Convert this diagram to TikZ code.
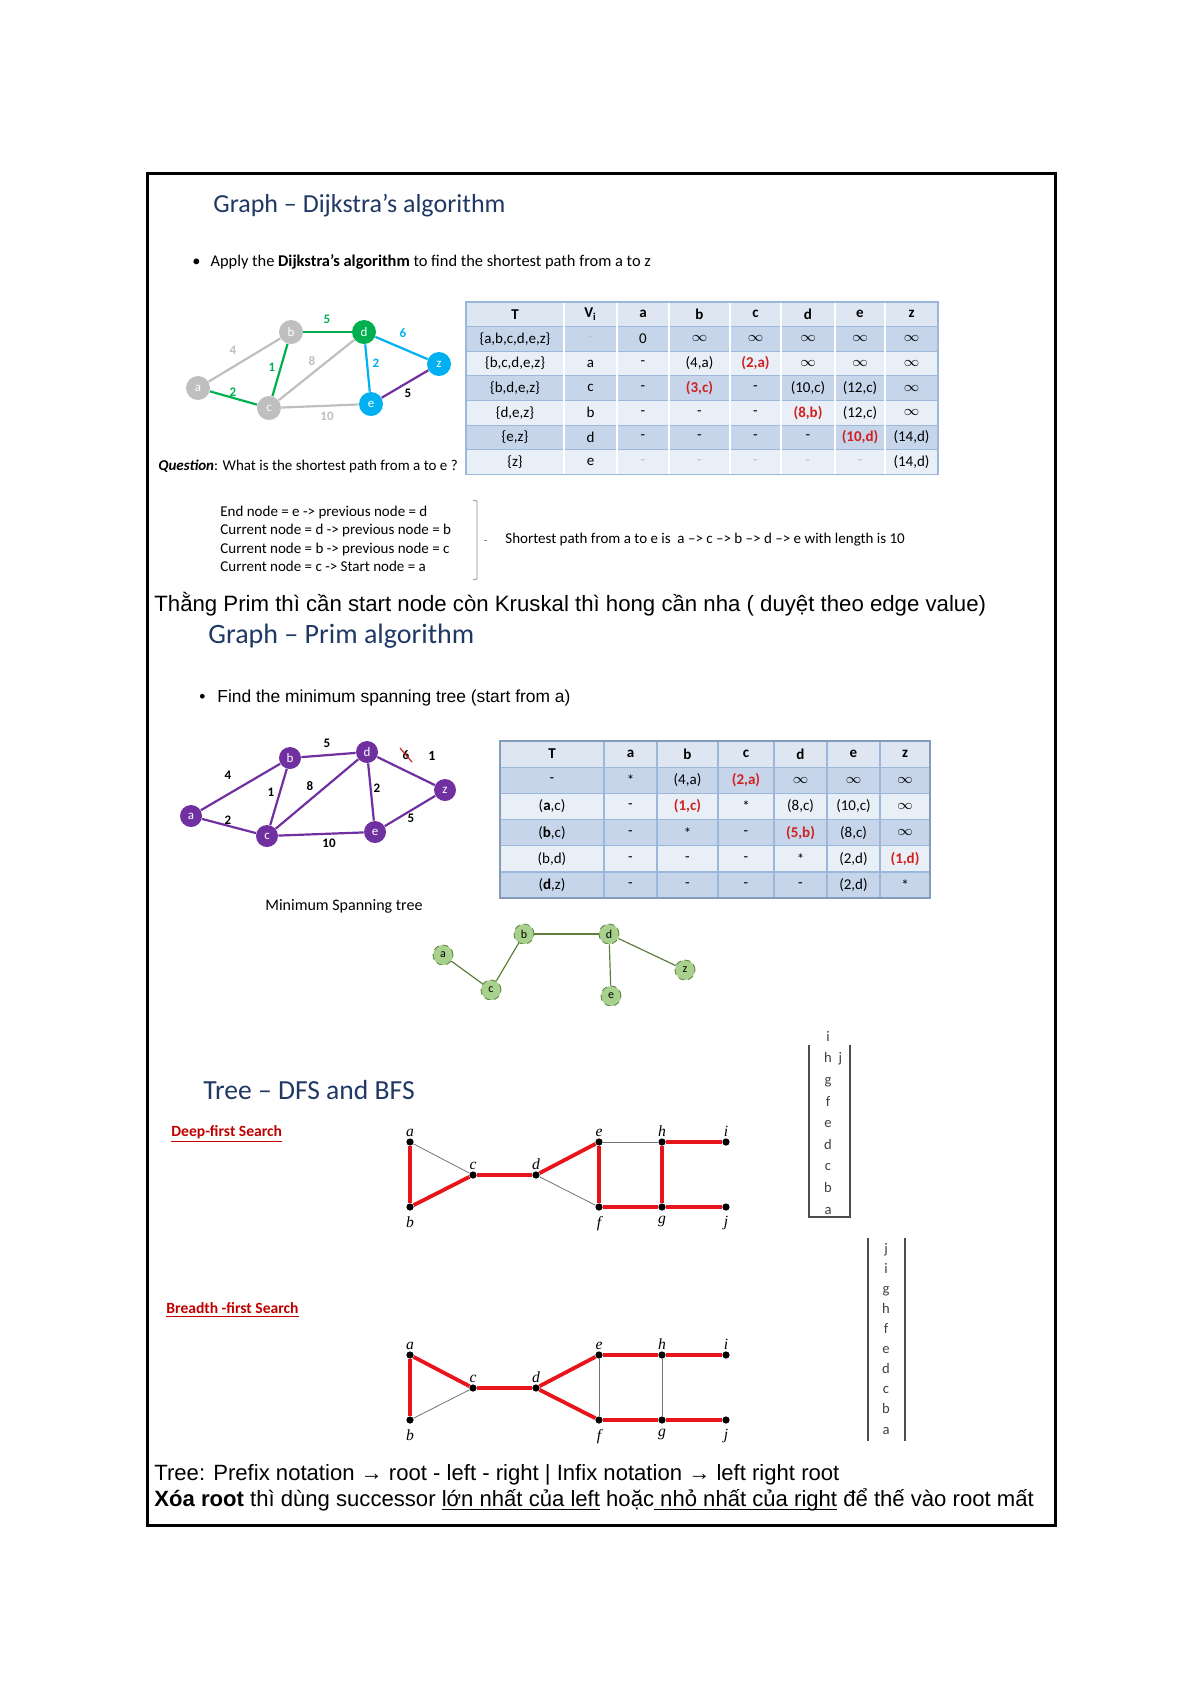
\documentclass[tikz,border=0pt]{standalone}
\usepackage{fontspec}
\setmainfont{Carlito}
\newfontfamily\arialfont{Liberation Sans}
\newfontfamily\serifit{Liberation Serif}
\usetikzlibrary{
  positioning,
  calc
}
\definecolor{ttlblue}{HTML}{1F3864}
\definecolor{dkgray}{HTML}{BFBFBF}
\definecolor{dkgreen}{HTML}{00B050}
\definecolor{dkcyan}{HTML}{00B0F0}
\definecolor{prpurple}{HTML}{7030A0}
\definecolor{hlred}{HTML}{D02020}
\definecolor{mstfill}{HTML}{A9D18E}
\definecolor{mstline}{HTML}{5E7F3A}
\definecolor{tblhead}{HTML}{DDE6F1}
\definecolor{tbldark}{HTML}{C6D5EA}
\definecolor{tbllight}{HTML}{E9EFF7}
\definecolor{tblline}{HTML}{9BB7DA}
\definecolor{trred}{HTML}{E8141B}
\definecolor{linkred}{HTML}{C00000}
\newcommand{\redval}[1]{\textcolor{hlred}{\bfseries #1}}
\newcommand{\fadeval}[1]{\textcolor{black!25}{#1}}
\newcommand{\flatul}[1]{\underline{\smash{#1}}}

\begin{document}
\begin{tikzpicture}[x=0.5pt, y=-0.5pt,
    ttl/.style={anchor=west, inner sep=0, text=ttlblue},
    txt/.style={anchor=west, inner sep=0, font=\fontsize{8}{9.5}\selectfont},
    note/.style={anchor=west, inner sep=0, font=\arialfont\fontsize{11.05}{13}\selectfont},
    dnode/.style={circle, minimum size=12pt, inner sep=0, text=white,
      font=\fontsize{6.5}{7}\selectfont},
    wt/.style={inner sep=0, font=\bfseries\fontsize{6.5}{7.5}\selectfont},
    dedge/.style={line width=1.1pt},
    pnode/.style={dnode, minimum size=11pt, fill=prpurple},
    pedge/.style={prpurple, line width=1.1pt},
    mnode/.style={circle, minimum size=10pt, inner sep=0, fill=mstfill,
      draw=mstline, densely dashed, line width=0.4pt, font=\fontsize{6}{7}\selectfont},
    medge/.style={mstline, line width=0.6pt},
    cell/.style={inner sep=0, font=\fontsize{7.5}{8.5}\selectfont},
    hcell/.style={cell, font=\bfseries\fontsize{7.5}{8.5}\selectfont},
    vdot/.style={circle, fill=black, minimum size=3.6pt, inner sep=0,
      label distance=2.6pt},
    vlab/.style={inner sep=0.4pt, font=\serifit\itshape\fontsize{7.8}{8.5}\selectfont},
    vlow/.style={vlab, yshift=-2pt},
    treeedge/.style={trred, line width=1.9pt},
    thinedge/.style={black!55, line width=0.4pt},
    stk/.style={anchor=base, inner sep=0, text=black!75, font=\fontsize{7.3}{8}\selectfont},
    stkline/.style={black!70, line width=0.7pt},
    link/.style={anchor=west, inner sep=0, text=linkred,
      font=\bfseries\fontsize{7.8}{9}\selectfont}
  ]
  \useasboundingbox (0,0) rectangle (1200,1694);
  \draw[line width=1.5pt] (147,173) rectangle (1055,1525);

  % Dijkstra
  \node[ttl, font=\fontsize{13}{15}\selectfont] (dtitle) at (213,206) {Graph -- Dijkstra’s algorithm};
  \node[txt, font=\fontsize{8.2}{9.5}\selectfont] (dbullet) at (192,262)
    {\textbullet\hspace{5pt}Apply the \textbf{Dijkstra’s algorithm} to find the shortest path from a to z};

  \node[dnode, fill=dkgray] (da) at (198,388) {a};
  \node[dnode, fill=dkgray] (db) at (291,332) {b};
  \node[dnode, fill=dkgray] (dc) at (269,408) {c};
  \node[dnode, fill=dkgreen] (dd) at (364,332) {d};
  \node[dnode, fill=dkcyan] (de) at (371,404) {e};
  \node[dnode, fill=dkcyan] (dz) at (439,364) {z};

  \draw[dedge, dkgray] (da) -- (db);
  \draw[dedge, dkgray] (dc) -- (dd);
  \draw[dedge, dkgray] (dc) -- (de);
  \draw[dedge, dkgreen] (da) -- (dc);
  \draw[dedge, dkgreen] (db) -- (dc);
  \draw[dedge, dkgreen] (db) -- (dd);
  \draw[dedge, dkcyan] (dd) -- (de);
  \draw[dedge, dkcyan] (dd) -- (dz);
  \draw[dedge, prpurple] (de) -- (dz);

  \node[wt, text=dkgray] (dw-ab) at (233,350) {4};
  \node[wt, text=dkgreen] (dw-bd) at (327,319) {5};
  \node[wt, text=dkcyan] (dw-dz) at (403,333) {6};
  \node[wt, text=dkgreen] (dw-bc) at (272,367) {1};
  \node[wt, text=dkgray] (dw-cd) at (312,361) {8};
  \node[wt, text=dkcyan] (dw-de) at (376,363) {2};
  \node[wt, text=dkgreen] (dw-ac) at (233,392) {2};
  \node[wt, text=dkgray] (dw-ce) at (327,416) {10};
  \node[wt] (dw-ez) at (408,393) {5};

  \node[txt, font=\fontsize{7.5}{9}\selectfont] (question) at (158,466)
    {\textbf{\textit{Question}}: What is the shortest path from a to e ?};

  % Dijkstra table
  \foreach \r/\c in {0/tblhead, 1/tbldark, 2/tbllight, 3/tbldark, 4/tbllight, 5/tbldark, 6/tbllight}
    \fill[\c] (466,{302+24.6*\r}) rectangle (938,{326.6+24.6*\r});
  \foreach \y in {326.6, 351.2, 375.8, 400.4, 425, 449.6}
    \draw[tblline, line width=0.5pt] (466,\y) -- (938,\y);
  \foreach \x in {564, 617, 669, 730, 781, 835, 885}
    \draw[white, line width=0.9pt] (\x,302) -- (\x,474.2);
  \draw[tblline, line width=0.6pt] (466,302) rectangle (938,474.2);

  \foreach \x/\t [count=\k] in {515/T, 590.5/V\textsubscript{i}, 643/a, 699.5/b, 755.5/c, 808/d, 860/e, 911.5/z}
    \node[hcell] (dk0-\k) at (\x,314.3) {\t};
  \foreach \x/\t [count=\k] in {515/{\{a,b,c,d,e,z\}}, 590.5/\fadeval{-}, 643/0, 699.5/$\infty$, 755.5/$\infty$, 808/$\infty$, 860/$\infty$, 911.5/$\infty$}
    \node[cell] (dk1-\k) at (\x,338.9) {\t};
  \foreach \x/\t [count=\k] in {515/{\{b,c,d,e,z\}}, 590.5/a, 643/-, 699.5/{(4,a)}, 755.5/{\redval{(2,a)}}, 808/$\infty$, 860/$\infty$, 911.5/$\infty$}
    \node[cell] (dk2-\k) at (\x,363.5) {\t};
  \foreach \x/\t [count=\k] in {515/{\{b,d,e,z\}}, 590.5/c, 643/-, 699.5/{\redval{(3,c)}}, 755.5/-, 808/{(10,c)}, 860/{(12,c)}, 911.5/$\infty$}
    \node[cell] (dk3-\k) at (\x,388.1) {\t};
  \foreach \x/\t [count=\k] in {515/{\{d,e,z\}}, 590.5/b, 643/-, 699.5/-, 755.5/-, 808/{\redval{(8,b)}}, 860/{(12,c)}, 911.5/$\infty$}
    \node[cell] (dk4-\k) at (\x,412.7) {\t};
  \foreach \x/\t [count=\k] in {515/{\{e,z\}}, 590.5/d, 643/-, 699.5/-, 755.5/-, 808/-, 860/{\redval{(10,d)}}, 911.5/{(14,d)}}
    \node[cell] (dk5-\k) at (\x,437.3) {\t};
  \foreach \x/\t [count=\k] in {515/{\{z\}}, 590.5/e, 643/\fadeval{-}, 699.5/\fadeval{-}, 755.5/\fadeval{-}, 808/\fadeval{-}, 860/\fadeval{-}, 911.5/{(14,d)}}
    \node[cell] (dk6-\k) at (\x,461.9) {\t};

  % Backtracking
  \node[txt, font=\fontsize{7.5}{9}\selectfont] (back1) at (220,512) {End node = e -> previous node = d};
  \node[txt, font=\fontsize{7.5}{9}\selectfont] (back2) at (220,530) {Current node = d -> previous node = b};
  \node[txt, font=\fontsize{7.5}{9}\selectfont] (back3) at (220,549) {Current node = b -> previous node = c};
  \node[txt, font=\fontsize{7.5}{9}\selectfont] (back4) at (220,566) {Current node = c -> Start node = a};
  \draw[black!45, line width=0.4pt] (473,500) -- (477,501) -- (477,579) -- (473,580);
  \draw[black!45, line width=0.4pt] (484,540) -- (487,540);
  \node[txt, font=\fontsize{7.5}{9}\selectfont] (answer) at (505,540)
    {Shortest path from a to e is \ a --> c --> b --> d --> e with length is 10};

  \node[note, font=\arialfont\fontsize{11.1}{13}\selectfont] (prim-note) at (154,604)
    {Thằng Prim thì cần start node còn Kruskal thì hong cần nha ( duyệt theo edge value)};

  % Prim
  \node[ttl, font=\fontsize{14}{16}\selectfont] (ptitle) at (208,636) {Graph -- Prim algorithm};
  \node[txt, font=\arialfont\fontsize{8.7}{10}\selectfont] (pbullet) at (199,698)
    {\textbullet\hspace{6pt}Find the minimum spanning tree (start from a)};

  \node[pnode] (pa) at (191,816) {a};
  \node[pnode] (pb) at (290,758) {b};
  \node[pnode] (pc) at (267,836) {c};
  \node[pnode] (pd) at (367,752) {d};
  \node[pnode] (pe) at (375,832) {e};
  \node[pnode] (pz) at (445,790) {z};

  \foreach \u/\v in {pa/pb, pa/pc, pb/pc, pb/pd, pc/pd, pc/pe, pd/pe, pd/pz, pe/pz}
    \draw[pedge] (\u) -- (\v);

  \node[wt] (pw-bd) at (327,743) {5};
  \node[wt] (pw-ab) at (228,775) {4};
  \node[wt] (pw-bc) at (271,792) {1};
  \node[wt] (pw-cd) at (310,786) {8};
  \node[wt] (pw-de) at (377,788) {2};
  \node[wt] (pw-ac) at (228,820) {2};
  \node[wt] (pw-ez) at (411,818) {5};
  \node[wt] (pw-ce) at (329,843) {10};
  \node[wt] (pw-dz) at (406,755) {6};
  \draw[hlred, line width=0.6pt] ([shift={(-6,-7)}]pw-dz.center) -- ([shift={(6,7)}]pw-dz.center);
  \node[wt, font=\bfseries\fontsize{7}{8}\selectfont] (pw-new) at (432,756) {1};

  \node[txt] (mst-label) at (265,906) {Minimum Spanning tree};

  % Prim table
  \foreach \r/\c in {0/tblhead, 1/tbldark, 2/tbllight, 3/tbldark, 4/tbllight, 5/tbldark}
    \fill[\c] (500,{741+26.2*\r}) rectangle (930,{767.2+26.2*\r});
  \foreach \y in {767.2, 793.4, 819.6, 845.8, 872}
    \draw[tblline, line width=0.6pt] (500,\y) -- (930,\y);
  \foreach \x in {604, 657, 718, 774, 827, 880}
    \draw[tblline, line width=0.6pt] (\x,741) -- (\x,898);
  \draw[tblline!85!black, line width=0.8pt] (500,741) rectangle (930,898);

  \foreach \x/\t [count=\k] in {552/T, 630.5/a, 687.5/b, 746/c, 800.5/d, 853.5/e, 905/z}
    \node[hcell] (pt0-\k) at (\x,754.1) {\t};
  \foreach \x/\t [count=\k] in {552/-, 630.5/*, 687.5/{(4,a)}, 746/{\redval{(2,a)}}, 800.5/$\infty$, 853.5/$\infty$, 905/$\infty$}
    \node[cell] (pt1-\k) at (\x,780.3) {\t};
  \foreach \x/\t [count=\k] in {552/{(\textbf{a},c)}, 630.5/-, 687.5/{\redval{(1,c)}}, 746/*, 800.5/{(8,c)}, 853.5/{(10,c)}, 905/$\infty$}
    \node[cell] (pt2-\k) at (\x,806.5) {\t};
  \foreach \x/\t [count=\k] in {552/{(\textbf{b},c)}, 630.5/-, 687.5/*, 746/-, 800.5/{\redval{(5,b)}}, 853.5/{(8,c)}, 905/$\infty$}
    \node[cell] (pt3-\k) at (\x,832.7) {\t};
  \foreach \x/\t [count=\k] in {552/{(b,d)}, 630.5/-, 687.5/-, 746/-, 800.5/*, 853.5/{(2,d)}, 905/{\redval{(1,d)}}}
    \node[cell] (pt4-\k) at (\x,858.9) {\t};
  \foreach \x/\t [count=\k] in {552/{(\textbf{d},z)}, 630.5/-, 687.5/-, 746/-, 800.5/-, 853.5/{(2,d)}, 905/*}
    \node[cell] (pt5-\k) at (\x,885.1) {\t};

  % Minimum spanning tree
  \node[mnode] (ma) at (443,955) {a};
  \node[mnode] (mb) at (524,934) {b};
  \node[mnode] (mc) at (491,990) {c};
  \node[mnode] (md) at (609,934) {d};
  \node[mnode] (me) at (611,996) {e};
  \node[mnode] (mz) at (685,970) {z};
  \foreach \u/\v in {ma/mc, mc/mb, mb/md, md/me, md/mz}
    \draw[medge] (\u) -- (\v);

  % Tree - DFS and BFS
  \node[ttl, font=\fontsize{13.8}{16}\selectfont] (ttitle) at (203,1090) {Tree -- DFS and BFS};
  \node[link] (dfs-link) at (171,1134) {\underline{Deep-first Search}};
  \node[link] (bfs-link) at (166,1310) {\underline{Breadth -first Search}};

  % DFS graph
  \node[vdot, label={[vlab]above:a}] (fa) at (410,1142) {};
  \node[vdot, label={[vlow]below:b}] (fb) at (410,1207) {};
  \node[vdot, label={[vlab]above:c}] (fc) at (473,1175) {};
  \node[vdot, label={[vlab]above:d}] (fd) at (536,1175) {};
  \node[vdot, label={[vlab]above:e}] (fe) at (599,1142) {};
  \node[vdot, label={[vlow]below:f}] (ff) at (599,1207) {};
  \node[vdot, label={[vlab]above:h}] (fh) at (662,1142) {};
  \node[vdot, label={[vlow]below:g}] (fg) at (662,1207) {};
  \node[vdot, label={[vlab]above:i}] (fi) at (726,1142) {};
  \node[vdot, label={[vlow]below:j}] (fj) at (726,1207) {};
  \foreach \u/\v in {fa/fc, fd/ff, fe/fh}
    \draw[thinedge] (\u) -- (\v);
  \foreach \u/\v in {fa/fb, fb/fc, fc/fd, fd/fe, fe/ff, ff/fg, fg/fh, fh/fi, fg/fj}
    \draw[treeedge] (\u) -- (\v);

  % DFS stack
  \draw[stkline] (809,1045) -- (809,1217) -- (850,1217) -- (850,1045);
  \foreach \l [count=\k] in {a,b,c,d,e,f,g,h,i}
    \node[stk] (ds-\l) at (828,{1214-21.6*(\k-1)}) {\l};
  \node[stk, anchor=base west] (ds-j) at ([xshift=3pt]ds-h.base east) {j};

  % BFS graph
  \node[vdot, label={[vlab]above:a}] (ba) at (410,1355) {};
  \node[vdot, label={[vlow]below:b}] (bb) at (410,1420) {};
  \node[vdot, label={[vlab]above:c}] (bc) at (473,1388) {};
  \node[vdot, label={[vlab]above:d}] (bd) at (536,1388) {};
  \node[vdot, label={[vlab]above:e}] (be) at (599,1355) {};
  \node[vdot, label={[vlow]below:f}] (bf) at (599,1420) {};
  \node[vdot, label={[vlab]above:h}] (bh) at (662,1355) {};
  \node[vdot, label={[vlow]below:g}] (bg) at (662,1420) {};
  \node[vdot, label={[vlab]above:i}] (bi) at (726,1355) {};
  \node[vdot, label={[vlow]below:j}] (bj) at (726,1420) {};
  \foreach \u/\v in {bb/bc, be/bf, bh/bg}
    \draw[thinedge] (\u) -- (\v);
  \foreach \u/\v in {ba/bb, ba/bc, bc/bd, bd/be, bd/bf, be/bh, bh/bi, bf/bg, bg/bj}
    \draw[treeedge] (\u) -- (\v);

  % BFS queue
  \draw[stkline] (868,1238) -- (868,1441);
  \draw[stkline] (905,1238) -- (905,1441);
  \foreach \l [count=\k] in {a,b,c,d,e,f,h,g,i,j}
    \node[stk] (bs-\l) at (886,{1434-20.1*(\k-1)}) {\l};

  % Notes
  \node[note] (tree-note) at (154,1475)
    {Tree: Prefix notation → root - left - right | Infix notation → left right root};
  \node[note] (del-note) at (154,1500)
    {\textbf{Xóa root} thì dùng successor \flatul{lớn nhất của left} hoặc\flatul{ nhỏ nhất của right} để thế vào root mất};
\end{tikzpicture}
\end{document}
